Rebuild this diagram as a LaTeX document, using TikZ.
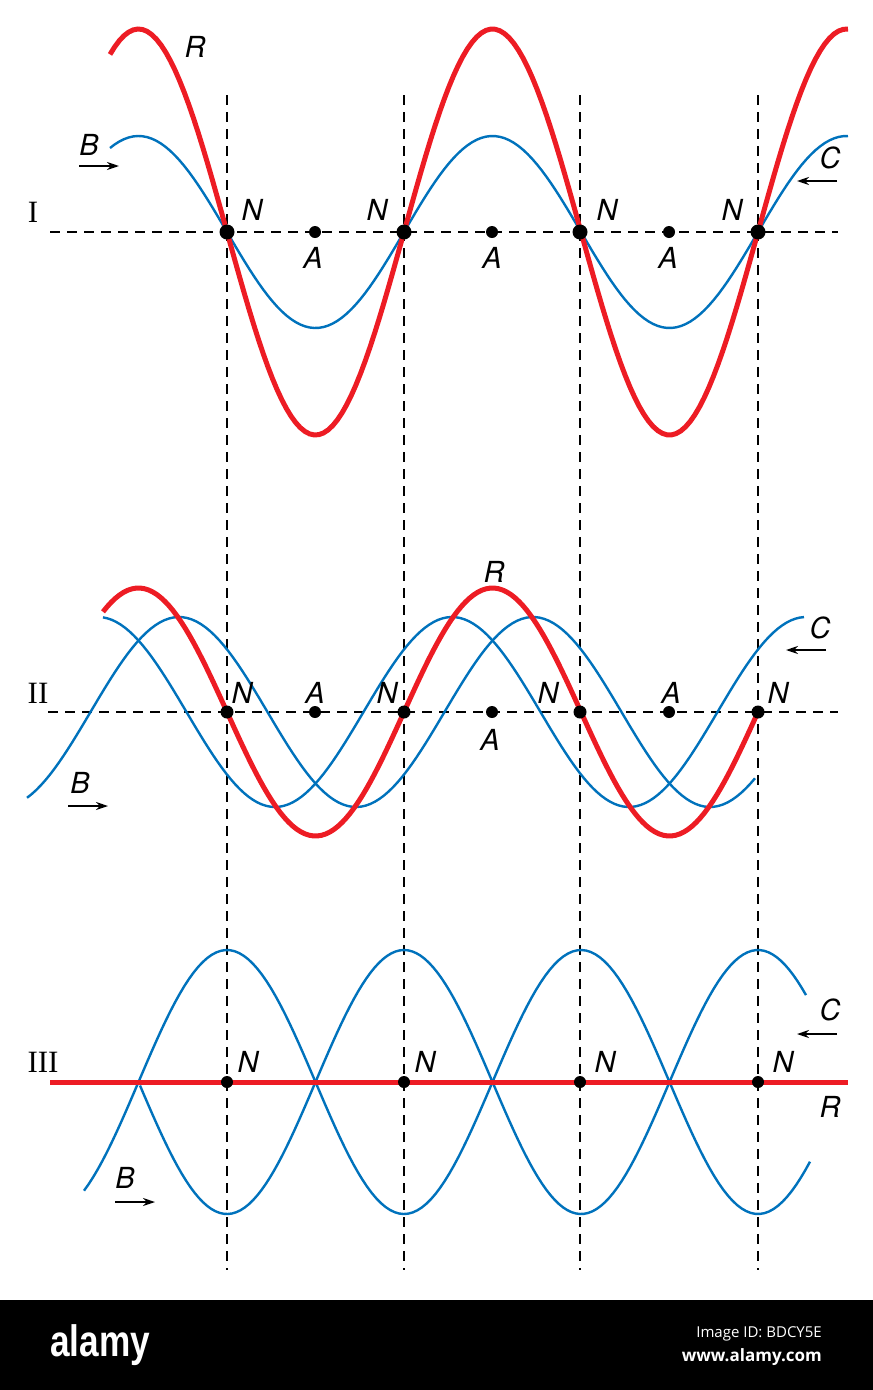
\documentclass[tikz,border=0pt]{standalone}
\usepackage{fontspec}
\setmainfont{Liberation Serif}
\setsansfont{TeX Gyre Heros}
\newfontfamily\wmfont{Open Sans}
\newfontfamily\logofont[FakeStretch=0.8]{Liberation Sans}
\usetikzlibrary{arrows.meta}
\definecolor{wavered}{RGB}{237,28,36}
\definecolor{waveblue}{RGB}{0,114,188}

\begin{document}
\begin{tikzpicture}[x=1pt, y=-1pt,
  grid/.style={line width=2.4pt, dash pattern=on 10pt off 7pt},
  redwave/.style={draw=wavered, line width=5pt},
  bluewave/.style={draw=waveblue, line width=2.4pt},
  ndot/.style={circle, fill, inner sep=0pt, minimum size=#1},
  ndot/.default=15pt,
  adot/.style={circle, fill, inner sep=0pt, minimum size=12pt},
  lbl/.style={font=\sffamily\itshape\fontsize{29}{29}\selectfont, inner sep=0pt},
  num/.style={font=\rmfamily\fontsize{31}{31}\selectfont, inner sep=0pt},
  dirarrow/.style={-{Stealth[length=12pt,width=8pt]}, line width=2pt}]
\useasboundingbox (0,0) rectangle (873,1390);

\foreach \x [count=\i] in {227,404,580,758} {
  \coordinate (top\i) at (\x,95);
  \coordinate (bot\i) at (\x,1270);
  \draw[grid] (top\i) -- (bot\i);
}
\coordinate (axIl) at (50,232);  \coordinate (axIr) at (838,232);
\coordinate (axIIl) at (48,712); \coordinate (axIIr) at (838,712);
\coordinate (axIIIl) at (50,1082); \coordinate (axIIIr) at (848,1082);
\draw[grid] (axIl) -- (axIr);
\draw[grid] (axIIl) -- (axIIr);

% I
\draw[bluewave] plot[domain=110:848, samples=160] (\x, {232-96*cos((\x-138.5)/354*360)});
\draw[redwave] plot[domain=110:848, samples=160] (\x, {232-203*cos((\x-138.5)/354*360)});
\foreach \x [count=\i] in {227,404,580,758}
  \node[ndot] (nI\i) at (\x,232) {};
\foreach \x [count=\i] in {315,492,669}
  \node[adot] (aI\i) at (\x,232) {};
\foreach \x/\y [count=\i] in {252/210,377/210,607/210,732/210}
  \node[lbl] (lnI\i) at (\x,\y) {N};
\foreach \x [count=\i] in {313,492,668}
  \node[lbl] (laI\i) at (\x,258) {A};
\node[num] (secI) at (33,212) {I};
\node[lbl] (rI) at (195,47) {R};
\node[lbl] (bI) at (89,145) {B};
\node[lbl] (cI) at (830,158) {C};
\coordinate (bIs) at (79,166);  \coordinate (bIe) at (119,166);
\coordinate (cIs) at (837,181); \coordinate (cIe) at (797,181);
\draw[dirarrow] (bIs) -- (bIe);
\draw[dirarrow] (cIs) -- (cIe);

% II
\draw[bluewave] plot[domain=103:804, samples=160] (\x, {712-95*cos((\x-452)/354*360)});
\draw[bluewave] plot[domain=27:755, samples=160] (\x, {712-95*cos((\x-533)/354*360)});
\draw[redwave] plot[domain=103:758, samples=160] (\x, {712-124*cos((\x-138.5)/354*360)});
\foreach \x [count=\i] in {227,404,580,758}
  \node[ndot=13pt] (nII\i) at (\x,712) {};
\foreach \x [count=\i] in {315,492,669}
  \node[adot] (aII\i) at (\x,712) {};
\foreach \x [count=\i] in {242,387,548,778}
  \node[lbl] (lnII\i) at (\x,693) {N};
\foreach \x/\y [count=\i] in {315/693,490/740,671/693}
  \node[lbl] (laII\i) at (\x,\y) {A};
\node[num] (secII) at (38,693) {II};
\node[lbl] (rII) at (494,572) {R};
\node[lbl] (bII) at (80,783) {B};
\node[lbl] (cII) at (820,628) {C};
\coordinate (bIIs) at (68,806);  \coordinate (bIIe) at (108,806);
\coordinate (cIIs) at (826,650); \coordinate (cIIe) at (786,650);
\draw[dirarrow] (bIIs) -- (bIIe);
\draw[dirarrow] (cIIs) -- (cIIe);

% III
\draw[bluewave] plot[domain=84:810, samples=160] (\x, {1082-132*cos((\x-227)/354*360)});
\draw[bluewave] plot[domain=140:806, samples=160] (\x, {1082+132*cos((\x-227)/354*360)});
\draw[redwave] (axIIIl) -- (axIIIr);
\foreach \x [count=\i] in {227,404,580,758}
  \node[ndot=12pt] (nIII\i) at (\x,1082) {};
\foreach \x [count=\i] in {248,425,605,783}
  \node[lbl] (lnIII\i) at (\x,1062) {N};
\node[num] (secIII) at (43,1062) {III};
\node[lbl] (rIII) at (830,1107) {R};
\node[lbl] (bIII) at (125,1178) {B};
\node[lbl] (cIII) at (830,1010) {C};
\coordinate (bIIIs) at (115,1202); \coordinate (bIIIe) at (155,1202);
\coordinate (cIIIs) at (837,1034); \coordinate (cIIIe) at (797,1034);
\draw[dirarrow] (bIIIs) -- (bIIIe);
\draw[dirarrow] (cIIIs) -- (cIIIe);

\fill (0,1300) rectangle (873,1390);
\node[anchor=base west, inner sep=0pt, text=white, font=\logofont\bfseries\fontsize{44}{44}\selectfont] (logo) at (50,1356) {alamy};
\node[anchor=base east, inner sep=0pt, text=white, font=\wmfont\fontsize{15}{15}\selectfont] (imgid) at (822,1337) {Image ID: BDCY5E};
\node[anchor=base east, inner sep=0pt, text=white, font=\wmfont\bfseries\fontsize{17}{17}\selectfont] (site) at (822,1361) {www.alamy.com};
\end{tikzpicture}
\end{document}
